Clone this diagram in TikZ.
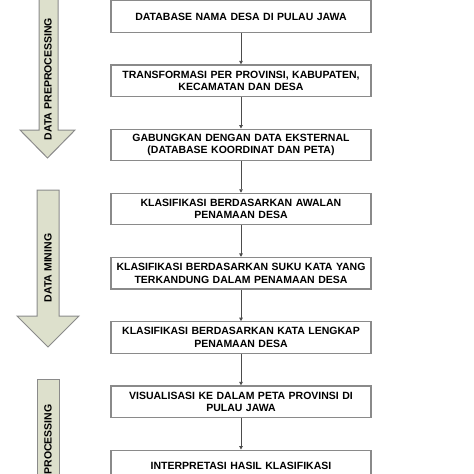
\documentclass[tikz,border=0pt]{standalone}
\usepackage{fontspec}
\setmainfont{Liberation Sans}
\usetikzlibrary{positioning,arrows.meta}
\definecolor{boxline}{HTML}{8A8A8A}
\definecolor{phasefill}{HTML}{DDE0CC}
\begin{document}
\begin{tikzpicture}[
			x=1pt,y=-1pt,
			node distance=31.5pt,
			stepbox/.style={draw=boxline,line width=1.2pt,fill=white,minimum height=31.5pt,
				text width=256pt,inner xsep=2pt,inner ysep=0pt,align=center,
				font=\bfseries\fontsize{10.5}{12.5}\selectfont},
			flow/.style={draw=black!70,line width=0.9pt,-{Triangle[length=3.5pt,width=3.5pt]}},
			phase/.style={draw=boxline,line width=1pt,fill=phasefill},
			phaselabel/.style={rotate=90,font=\bfseries\fontsize{10.5}{12.5}\selectfont}
		]
		\useasboundingbox (0,0) rectangle (474,474);
		\clip (0,0) rectangle (474,474);
		% phases on the left
		\draw[phase] (39,-5) -- (58,-5) -- (58,130) -- (75,130) -- (47.5,158) -- (20,130) -- (39,130) -- cycle;
		\draw[phase] (37,190) -- (59,190) -- (59,316) -- (79,316) -- (48,347) -- (17,316) -- (37,316) -- cycle;
		\draw[phase] (37,379) -- (59,379) -- (59,490) -- (37,490) -- cycle;
		\node[phaselabel] (prep) at (48,79) {DATA PREPROCESSING};
		\node[phaselabel] (mining) at (48,268) {DATA MINING};
		\node[phaselabel,anchor=east] (post) at (48,401) {PROCESSING};
		% flow
		\node[stepbox] (db) at (241,16.5) {DATABASE NAMA DESA DI PULAU JAWA};
		\node[stepbox,below=of db] (trans) {TRANSFORMASI PER PROVINSI, KABUPATEN,\\KECAMATAN DAN DESA};
		\node[stepbox,below=of trans] (gabung) {GABUNGKAN DENGAN DATA EKSTERNAL\\(DATABASE KOORDINAT DAN PETA)};
		\node[stepbox,below=of gabung] (awalan) {KLASIFIKASI BERDASARKAN AWALAN\\PENAMAAN DESA};
		\node[stepbox,below=of awalan] (suku) {KLASIFIKASI BERDASARKAN SUKU KATA YANG\\TERKANDUNG DALAM PENAMAAN DESA};
		\node[stepbox,below=of suku] (lengkap) {KLASIFIKASI BERDASARKAN KATA LENGKAP\\PENAMAAN DESA};
		\node[stepbox,below=of lengkap] (visual) {VISUALISASI KE DALAM PETA PROVINSI DI\\PULAU JAWA};
		\node[stepbox,below=of visual] (interp) {INTERPRETASI HASIL KLASIFIKASI};
		\foreach \a/\b in {db/trans,trans/gabung,gabung/awalan,awalan/suku,suku/lengkap,lengkap/visual,visual/interp}
		\draw[flow] (\a) -- (\b);
	\end{tikzpicture}
\end{document}
